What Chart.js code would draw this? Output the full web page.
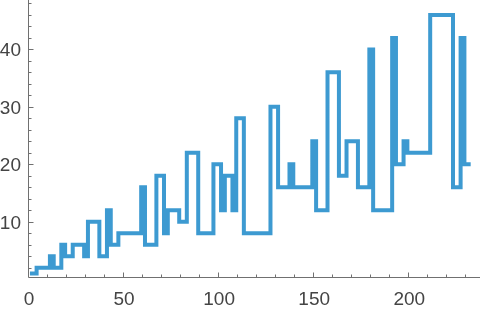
<!DOCTYPE html>
<html>
<head>
<meta charset="utf-8">
<script src="https://cdn.jsdelivr.net/npm/chart.js@4"></script>
<style>
  html, body { margin: 0; padding: 0; background: #fff; }
  #chart { display: block; }
</style>
</head>
<body>
<canvas id="chart" width="480" height="310"></canvas>
<script>
// Step start positions (x) and the level held from there to the next step
const stepX = [0.5, 4, 11, 13, 17, 19, 23, 29, 31, 37, 41, 43, 47, 59, 61, 67, 71, 73,
               79, 83, 89, 97, 101, 103, 107, 109, 113, 127, 131, 137, 139, 149, 151,
               157, 163, 167, 173, 179, 181, 191, 193, 197, 199, 211, 223, 227, 229, 232.3];
const stepY = [1, 2, 4, 2, 6, 4, 6, 4, 10, 4, 12, 6, 8, 16, 6, 18, 8, 12,
               10, 22, 8, 20, 12, 18, 12, 28, 8, 30, 16, 20, 16, 24, 12,
               36, 18, 24, 16, 40, 12, 42, 20, 24, 22, 46, 16, 42, 20, 20];

// Axis ticks
const xMajorTicks = [0, 50, 100, 150, 200];
const yMajorTicks = [10, 20, 30, 40];
const xMinorStep = 10;
const yMinorStep = 2;

const lineColor = '#3d9ad1';
const axisColor = '#707070';
const labelColor = '#444444';
const labelFont = '19px "Liberation Sans", Arial, sans-serif';

// Mathematica-like axes: ticks pointing into the plot, labels outside
const axesPlugin = {
    id: 'mmaAxes',
    afterDraw(chart) {
        const ctx = chart.ctx;
        const xs = chart.scales.x;
        const ys = chart.scales.y;
        const x0 = xs.getPixelForValue(0) - 0.5;
        const yBase = ys.getPixelForValue(ys.min) + 0.5 - 1;

        ctx.save();
        ctx.strokeStyle = axisColor;
        ctx.lineWidth = 1;

        // axis lines
        ctx.beginPath();
        ctx.moveTo(x0, 0);
        ctx.lineTo(x0, yBase);
        ctx.moveTo(x0, yBase);
        ctx.lineTo(chart.width, yBase);
        ctx.stroke();

        // x ticks
        ctx.beginPath();
        for (let v = 0; v <= xs.max; v += xMinorStep) {
            const px = Math.round(xs.getPixelForValue(v)) - 0.5;
            const len = xMajorTicks.includes(v) ? 5 : 3;
            if (v === 0) continue;
            ctx.moveTo(px, yBase);
            ctx.lineTo(px, yBase - len);
        }
        // y ticks
        for (let v = yMinorStep; v <= ys.max; v += yMinorStep) {
            const py = Math.round(ys.getPixelForValue(v)) + 0.5;
            const len = yMajorTicks.includes(v) ? 5 : 3;
            ctx.moveTo(x0, py);
            ctx.lineTo(x0 + len, py);
        }
        ctx.stroke();

        // labels
        ctx.fillStyle = labelColor;
        ctx.font = labelFont;
        ctx.textAlign = 'center';
        ctx.textBaseline = 'alphabetic';
        xMajorTicks.forEach(v => {
            ctx.fillText(String(v), xs.getPixelForValue(v), 305);
        });
        ctx.textAlign = 'right';
        yMajorTicks.forEach(v => {
            ctx.fillText(String(v), 21, ys.getPixelForValue(v) + 7);
        });
        ctx.restore();
    }
};

const ctx = document.getElementById('chart').getContext('2d');
new Chart(ctx, {
    type: 'line',
    data: {
        datasets: [{
            data: stepX.map((x, i) => ({ x: x, y: stepY[i] })),
            stepped: true,
            borderColor: lineColor,
            borderWidth: 4,
            borderJoinStyle: 'miter',
            borderCapStyle: 'butt',
            pointRadius: 0,
            fill: false
        }]
    },
    options: {
        responsive: false,
        animation: false,
        layout: { padding: { left: 29, right: 0, top: 0, bottom: 32 } },
        scales: {
            x: { type: 'linear', min: 0, max: 237.2, display: false },
            y: { type: 'linear', min: 0.2, max: 48.6, display: false }
        },
        plugins: {
            legend: { display: false },
            tooltip: { enabled: false }
        }
    },
    plugins: [axesPlugin]
});
</script>
</body>
</html>
